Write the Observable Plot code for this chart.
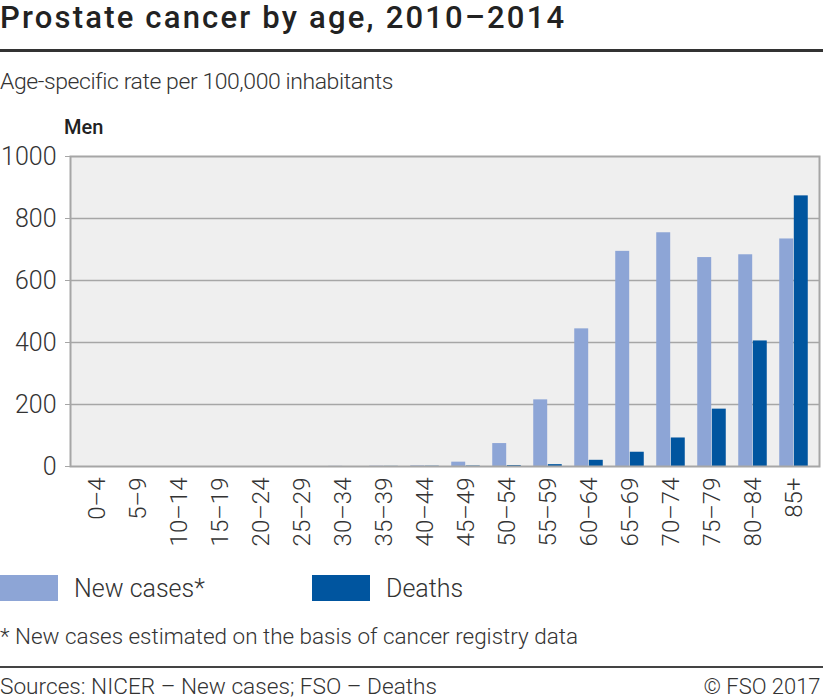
<!DOCTYPE html>
<html>
<head>
<meta charset="utf-8">
<script src="https://cdn.jsdelivr.net/npm/d3@7"></script>
<script src="https://cdn.jsdelivr.net/npm/@observablehq/plot@0.6"></script>
<style>
  body { margin: 0; background: #fff; font-family: Roboto, sans-serif; color: #222; }
  #wrap { position: relative; width: 823px; height: 698px; overflow: hidden; }
  .abs { position: absolute; white-space: nowrap; line-height: 1; }
  #title { left: 0; top: 2px; font-size: 31px; font-weight: 500; color: #222; letter-spacing: 2.2px; }
  #rule1 { left: 0; top: 49px; width: 823px; height: 3px; background: #333; }
  #subtitle { left: 0; top: 71px; font-size: 22px; font-weight: 300; letter-spacing: -0.4px; color: #333; }
  #men { left: 64px; top: 117px; font-size: 20px; font-weight: 500; color: #222; }
  #chart { position: absolute; left: 0; top: 110px; }
  .sw { position: absolute; width: 58px; height: 26px; top: 575px; }
  .lg { font-size: 25px; font-weight: 300; color: #333; top: 576px; }
  #note { left: 0; top: 626px; font-size: 22px; font-weight: 300; color: #333; transform-origin: left top; }
  #rule2 { left: 0; top: 666px; width: 823px; height: 2px; background: #444; }
  #src { left: 0; top: 676px; font-size: 22px; font-weight: 300; color: #333; transform-origin: left top; }
  #copy { right: 3px; top: 676px; font-size: 22px; font-weight: 300; color: #333; transform-origin: right top; }
</style>
</head>
<body>
<div id="wrap">
  <div id="title" class="abs">Prostate cancer by age, 2010–2014</div>
  <div id="rule1" class="abs"></div>
  <div id="subtitle" class="abs">Age-specific rate per 100,000 inhabitants</div>
  <div id="men" class="abs">Men</div>
  <div id="chart"></div>
  <div class="sw" style="left:0;background:#8da5d6"></div>
  <div class="abs lg" style="left:74px">New cases*</div>
  <div class="sw" style="left:312px;background:#00559f"></div>
  <div class="abs lg" style="left:386px">Deaths</div>
  <div id="note" class="abs">* New cases estimated on the basis of cancer registry data</div>
  <div id="rule2" class="abs"></div>
  <div id="src" class="abs">Sources: NICER – New cases; FSO – Deaths</div>
  <div id="copy" class="abs">© FSO 2017</div>
</div>
<script>
const ages = ["0–4","5–9","10–14","15–19","20–24","25–29","30–34","35–39","40–44","45–49","50–54","55–59","60–64","65–69","70–74","75–79","80–84","85+"];
const newCases = [0,0,0,0,0,0,0.5,1,2,14,74,215,444,694,754,674,683,734];
const deaths = [0,0,0,0,0,0,0,0.5,1,1.5,3,6,20,46,92,185,405,873];
const seriesNames = ["New cases*","Deaths"];
const seriesColors = ["#8da5d6","#00559f"];
const yTicks = [0,200,400,600,800,1000];

const rows = [];
ages.forEach((a,i) => {
  rows.push({age:a, series:seriesNames[0], value:newCases[i]});
  rows.push({age:a, series:seriesNames[1], value:deaths[i]});
});

const W = 823, ML = 70, MR = 4;
const bw = (W - ML - MR) / ages.length;
const pad = bw * 0.15;
const half = bw / 2;

const chart = Plot.plot({
  width: W,
  height: 450,
  marginTop: 46,
  marginBottom: 94,
  marginLeft: ML,
  marginRight: MR,
  style: {fontFamily: "Roboto, sans-serif", fontWeight: 300, color: "#333", background: "transparent", overflow: "visible"},
  x: {domain: ages, padding: 0},
  y: {domain: [0, 1000]},
  color: {domain: seriesNames, range: seriesColors},
  marks: [
    Plot.frame({fill: "#efefef", stroke: null}),
    Plot.gridY(yTicks.filter(t => t > 0 && t < 1000), {stroke: "#a6a6a6", strokeOpacity: 1, strokeWidth: 1.5}),
    Plot.barY(rows.filter(d => d.series === seriesNames[0]), {x: "age", y: "value", fill: "series", insetLeft: pad, insetRight: half}),
    Plot.barY(rows.filter(d => d.series === seriesNames[1]), {x: "age", y: "value", fill: "series", insetLeft: half, insetRight: pad}),
    Plot.frame({stroke: "#a6a6a6", strokeWidth: 2}),
    Plot.axisY({ticks: yTicks, tickSize: 5, tickPadding: 9, fontSize: 25, tickFormat: d => String(d), label: null, stroke: "#a6a6a6"}),
    Plot.axisX({tickRotate: -90, tickSize: 0, tickPadding: 11, fontSize: 24, label: null})
  ]
});
document.getElementById("chart").appendChild(chart);

// match text block widths measured on the reference
function fitWidth(id, target) {
  const el = document.getElementById(id);
  const w = el.getBoundingClientRect().width;
  if (w > 0) el.style.transform = `scaleX(${target / w})`;
}
document.getElementById("subtitle").style.transformOrigin = "left top";
fitWidth("note", 578);
fitWidth("src", 437);
fitWidth("copy", 117);
fitWidth("subtitle", 393);
</script>
</body>
</html>
